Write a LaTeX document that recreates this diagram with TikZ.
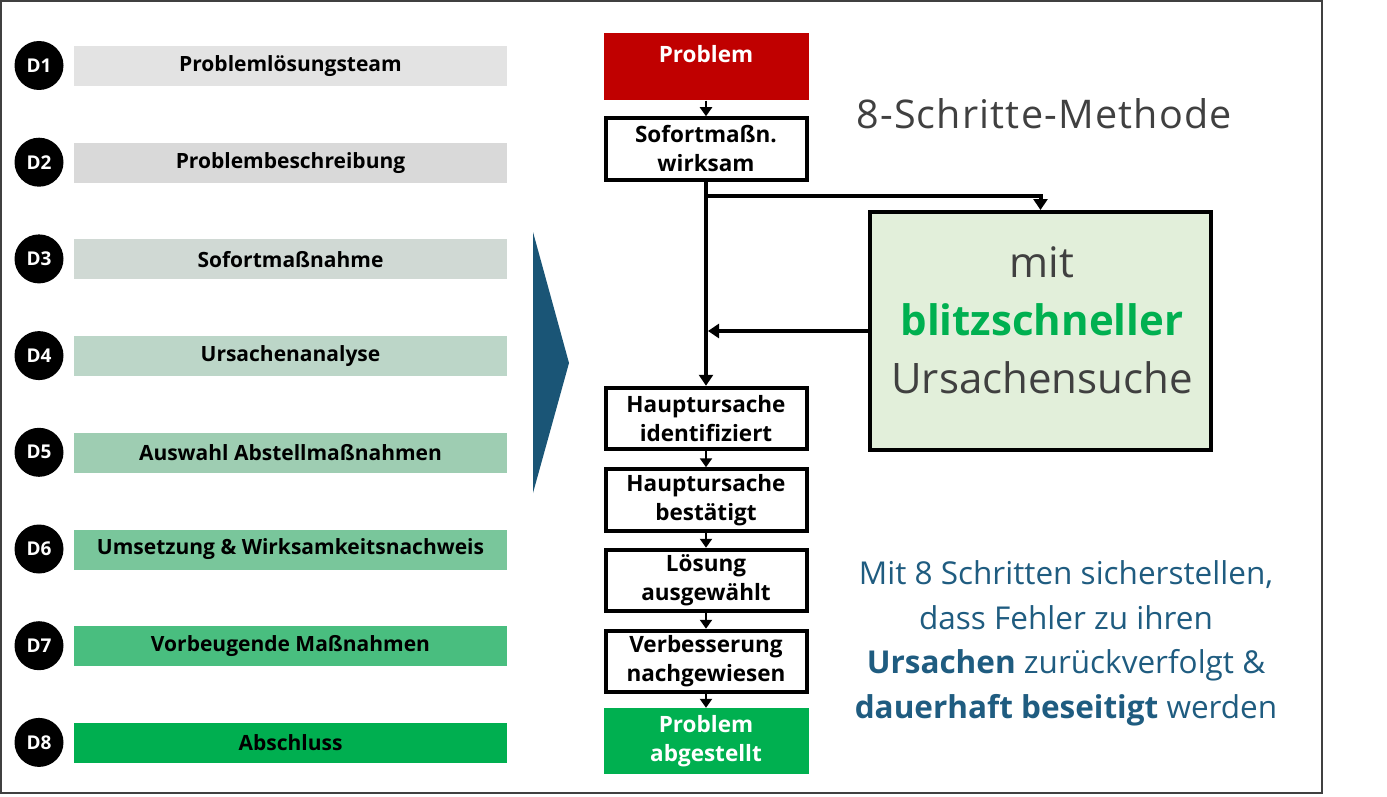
\documentclass[tikz,border=0pt]{standalone}
\usepackage{fontspec}
\setmainfont{Open Sans}
\usetikzlibrary{arrows.meta}
\definecolor{barA}{HTML}{E3E3E3}
\definecolor{barB}{HTML}{D9D9D9}
\definecolor{barC}{HTML}{D0D9D4}
\definecolor{barD}{HTML}{BCD6C8}
\definecolor{barE}{HTML}{9ECDB2}
\definecolor{barF}{HTML}{79C69B}
\definecolor{barG}{HTML}{49BE7F}
\definecolor{barH}{HTML}{00AF50}
\definecolor{pred}{HTML}{C00000}
\definecolor{pgreen}{HTML}{00B050}
\definecolor{gfill}{HTML}{E2EFDA}
\definecolor{chev}{HTML}{1A5576}
\definecolor{btext}{HTML}{1F5C80}
\definecolor{dgray}{HTML}{404040}
\tikzset{
  dcircle/.style={circle, fill=black, minimum size=49pt, inner sep=0pt, text=white, font=\bfseries\fontsize{19}{19}\selectfont},
  bar/.style={minimum width=433pt, minimum height=40pt, inner sep=0pt, font=\bfseries\fontsize{21}{21}\selectfont},
  wbox/.style={draw=black, line width=4pt, fill=white, minimum width=201pt, minimum height=61.5pt, inner sep=0pt, align=center, font=\bfseries\fontsize{22.5}{29}\selectfont},
  cbox/.style={minimum width=205pt, minimum height=67pt, inner sep=0pt, align=center, text=white, font=\bfseries\fontsize{22.5}{29}\selectfont},
  sarrow/.style={draw=black, line width=2.5pt, -{Triangle[width=12pt,length=9pt]}},
  marrow/.style={draw=black, line width=4pt, -{Triangle[width=14pt,length=11pt]}},
  bigtxt/.style={anchor=base, text=dgray, font=\fontsize{42}{42}\selectfont},
  bluetxt/.style={anchor=base, text=btext, font=\fontsize{31.5}{31.5}\selectfont},
}
\begin{document}
\begin{tikzpicture}[x=1pt,y=-1pt]
\useasboundingbox (0,0) rectangle (1387,797);
\fill[white] (0,0) rectangle (1387,797);
\draw[line width=2pt, color=dgray] (1,1) rectangle (1322,793);

% left column
\foreach \i/\lab/\col in {1/Problemlösungsteam/barA, 2/Problembeschreibung/barB, 3/Sofortmaßnahme/barC, 4/Ursachenanalyse/barD, 5/Auswahl Abstellmaßnahmen/barE, 6/{Umsetzung \& Wirksamkeitsnachweis}/barF, 7/Vorbeugende Maßnahmen/barG, 8/Abschluss/barH} {
  \node[dcircle] (d\i) at (39, {65.5+96.7*(\i-1)}) {D\i};
  \node[bar, fill=\col] (b\i) at (290.5, {66+96.7*(\i-1)}) {\lab};
}

% chevron
\fill[chev] (533,232) -- (569,363) -- (533,493) -- cycle;

% flowchart
\node[cbox, fill=pred] (prob) at (706,67) {};
\node[anchor=base, text=white, font=\bfseries\fontsize{22.5}{29}\selectfont] (probt) at (706,63) {Problem};
\node[wbox] (sof) at (706,149) {Sofortmaßn.\\wirksam};
\node[wbox] (hid) at (706,418.5) {Hauptursache\\identifiziert};
\node[wbox] (hbe) at (706,500) {Hauptursache\\bestätigt};
\node[wbox] (loe) at (706,580.5) {Lösung\\ausgewählt};
\node[wbox] (ver) at (706,661.5) {Verbesserung\\nachgewiesen};
\node[cbox, fill=pgreen, minimum height=66pt] (abg) at (706,741) {Problem\\abgestellt};

\draw[sarrow] (prob.south) -- (sof.north);
\draw[sarrow] (hid.south) -- (hbe.north);
\draw[sarrow] (hbe.south) -- (loe.north);
\draw[sarrow] (loe.south) -- (ver.north);
\draw[sarrow] (ver.south) -- (abg.north);

% green box
\node[draw=black, line width=4pt, fill=gfill, minimum width=341pt, minimum height=238pt, inner sep=0pt] (grn) at (1040.5,331) {};
\node[bigtxt] (mit) at (1042,277) {mit};
\node[bigtxt, text=pgreen, font=\bfseries\fontsize{42}{42}\selectfont] (blitz) at (1042,335) {blitzschneller};
\node[bigtxt] (urs) at (1042,393) {Ursachensuche};

\draw[marrow] (sof.south) -- (hid.north);
\coordinate (j1) at (706,196);
\draw[marrow, line width=4pt] (j1) -| (grn.north);
\coordinate (j2) at (708,331);
\draw[marrow] (grn.west) -- (j2);

% title
\node[anchor=base, text=dgray, font=\fontsize{39.5}{39.5}\selectfont\addfontfeature{LetterSpace=3}] (title) at (1044,129) {8-Schritte-Methode};

% blue text
\node[bluetxt] (l1) at (1066,584) {Mit 8 Schritten sicherstellen,};
\node[bluetxt] (l2) at (1066,629) {dass Fehler zu ihren};
\node[bluetxt] (l3) at (1066,673) {\textbf{Ursachen} zurückverfolgt \&};
\node[bluetxt] (l4) at (1066,718) {\textbf{dauerhaft beseitigt} werden};
\end{tikzpicture}
\end{document}
